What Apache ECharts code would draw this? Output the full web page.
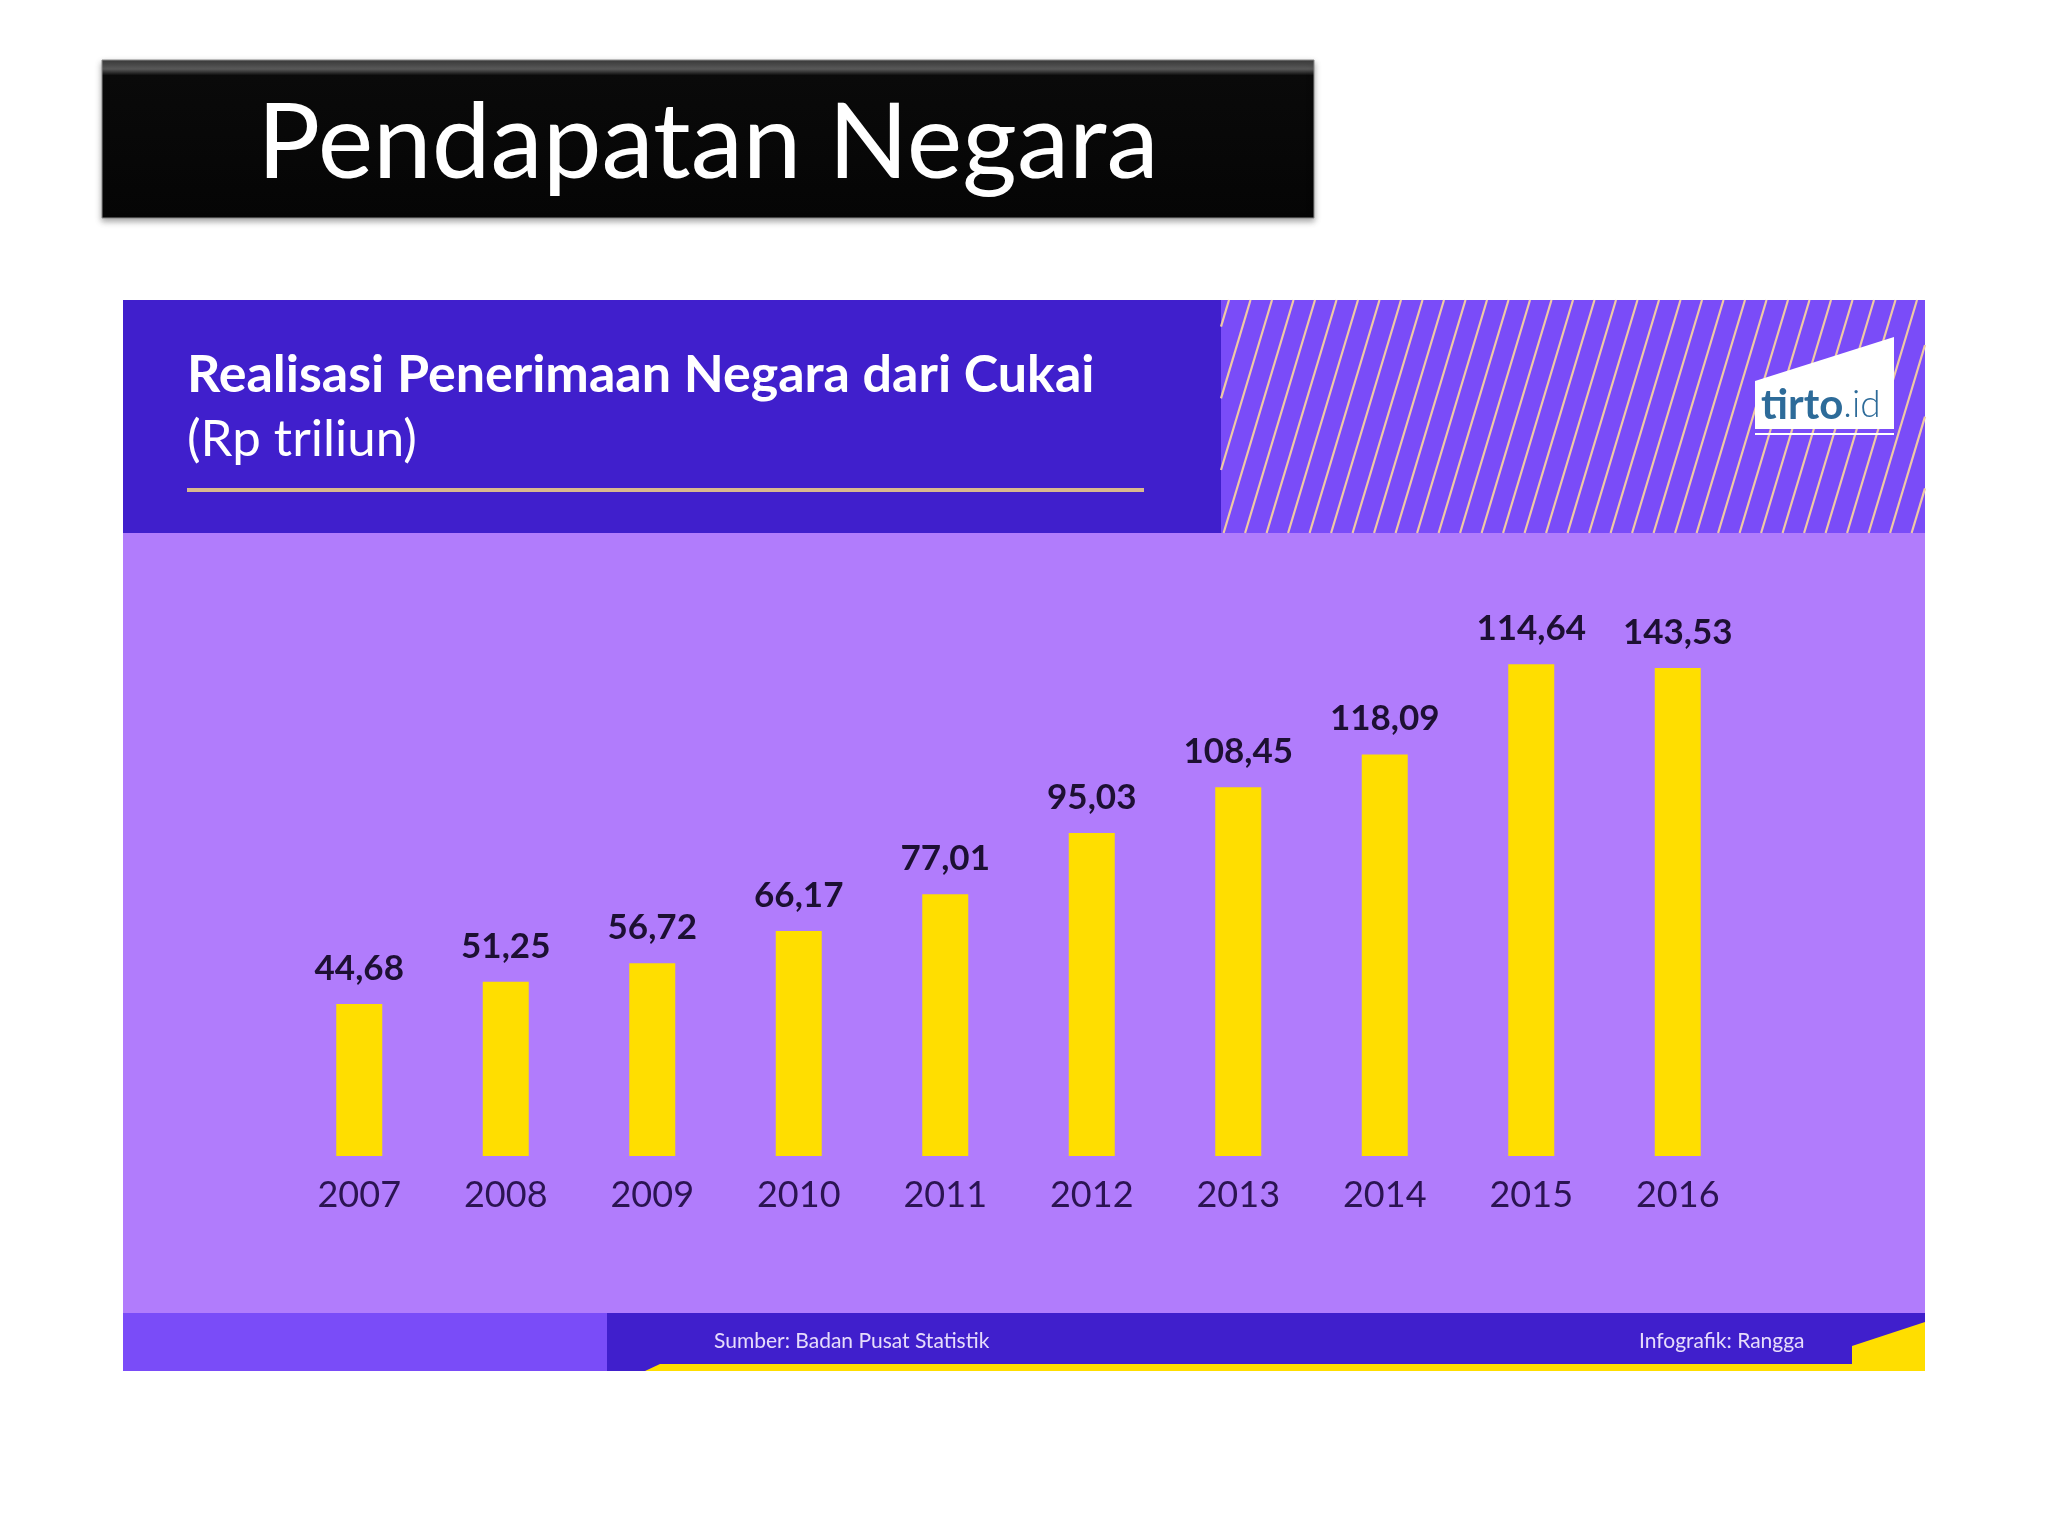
<!DOCTYPE html>
<html>
<head>
<meta charset="utf-8">
<title>Pendapatan Negara</title>
<script src="https://cdn.jsdelivr.net/npm/echarts@6/dist/echarts.min.js"></script>
<style>
  html, body { margin: 0; padding: 0; background: #ffffff; }
  #chart { width: 2048px; height: 1536px; }
</style>
</head>
<body>
<div id="chart"></div>
<script>
// data (Rp triliun)
const years = ['2007', '2008', '2009', '2010', '2011', '2012', '2013', '2014', '2015', '2016']
// bar heights as drawn (2015 bar is drawn at ~144.6 although its label reads 114,64)
const values = [44.68, 51.25, 56.72, 66.17, 77.01, 95.03, 108.45, 118.09, 144.64, 143.53]
// label texts exactly as printed on the picture
const valueLabels = ['44,68', '51,25', '56,72', '66,17', '77,01', '95,03', '108,45', '118,09', '114,64', '143,53']

const font = 'Lato'

// diagonal stripes in the header (decoration only)
function stripeLines () {
  const x0 = 1221, x1 = 1925, y0 = 300, y1 = 533
  const slope = 0.3 // dx per dy
  const step = 21.5
  const lines = []
  for (let xt = x0 + 8; xt < x1 + (y1 - y0) * slope; xt += step) {
    let ax = xt, ay = y0
    let bx = xt - (y1 - y0) * slope, by = y1
    if (ax > x1) { ay = y0 + (ax - x1) / slope; ax = x1 }
    if (bx < x0) { by = y1 - (x0 - bx) / slope; bx = x0 }
    if (ay >= by) continue
    lines.push({
      type: 'line',
      z: 1,
      shape: { x1: ax, y1: ay, x2: bx, y2: by },
      style: { stroke: '#efc9a4', lineWidth: 2.2 },
      silent: true
    })
  }
  return lines
}

const chart = echarts.init(document.getElementById('chart'))

const option = {
  backgroundColor: '#ffffff',
  animation: false,
  grid: {
    left: 286,
    right: 297,
    top: 612,
    bottom: 380
  },
  xAxis: {
    type: 'category',
    data: years,
    axisLine: { show: false },
    axisTick: { show: false },
    axisLabel: {
      margin: 21,
      fontFamily: font,
      fontSize: 36,
      color: '#2b1452'
    }
  },
  yAxis: {
    type: 'value',
    min: 0,
    max: 160,
    show: false,
    splitLine: { show: false }
  },
  series: [
    {
      type: 'bar',
      z: 5,
      data: values,
      barWidth: 46,
      itemStyle: { color: '#ffde00' },
      label: {
        show: true,
        position: 'top',
        distance: 18,
        fontFamily: font,
        fontWeight: 'bold',
        fontSize: 35,
        color: '#1d1033',
        formatter: p => valueLabels[p.dataIndex]
      }
    }
  ],
  graphic: [
    // slide title box
    {
      type: 'rect',
      z: 0,
      shape: { x: 102, y: 60, width: 1212, height: 158 },
      style: {
        fill: {
          type: 'linear', x: 0, y: 0, x2: 0, y2: 1,
          colorStops: [
            { offset: 0, color: '#3a3a3a' },
            { offset: 0.06, color: '#5a5a5a' },
            { offset: 0.1, color: '#0a0a0a' },
            { offset: 1, color: '#050505' }
          ]
        },
        stroke: '#8a8a8a',
        lineWidth: 1,
        shadowBlur: 6,
        shadowOffsetY: 3,
        shadowColor: 'rgba(0,0,0,0.35)'
      }
    },
    {
      type: 'text',
      z: 2,
      x: 708,
      y: 144,
      style: {
        text: 'Pendapatan Negara',
        fill: '#ffffff',
        fontFamily: font,
        fontSize: 105,
        align: 'center',
        verticalAlign: 'middle'
      }
    },
    // infographic panel
    {
      type: 'rect',
      z: 0,
      shape: { x: 123, y: 533, width: 1802, height: 780 },
      style: { fill: '#b17cfc' }
    },
    {
      type: 'rect',
      z: 0,
      shape: { x: 123, y: 300, width: 1098, height: 233 },
      style: { fill: '#401fcc' }
    },
    {
      type: 'rect',
      z: 0,
      shape: { x: 1221, y: 300, width: 704, height: 233 },
      style: { fill: '#7a4cf8' }
    },
    ...stripeLines(),
    {
      type: 'text',
      z: 2,
      x: 187,
      y: 375,
      style: {
        text: 'Realisasi Penerimaan Negara dari Cukai',
        fill: '#ffffff',
        fontFamily: font,
        fontWeight: 'bold',
        fontSize: 52,
        verticalAlign: 'middle'
      }
    },
    {
      type: 'text',
      z: 2,
      x: 187,
      y: 440,
      style: {
        text: '(Rp triliun)',
        fill: '#ffffff',
        fontFamily: font,
        fontSize: 51,
        verticalAlign: 'middle'
      }
    },
    {
      type: 'rect',
      z: 2,
      shape: { x: 187, y: 488, width: 957, height: 4 },
      style: { fill: '#d9b98e' }
    },
    // logo
    {
      type: 'polygon',
      z: 3,
      shape: { points: [[1755, 381], [1894, 337], [1894, 429], [1755, 429]] },
      style: { fill: '#ffffff' }
    },
    {
      type: 'rect',
      z: 3,
      shape: { x: 1755, y: 433, width: 139, height: 2 },
      style: { fill: '#ffffff' }
    },
    {
      type: 'text',
      z: 4,
      x: 1761,
      y: 405,
      style: {
        text: '{a|tirto}{b|.id}',
        verticalAlign: 'middle',
        rich: {
          a: { fontFamily: font, fontWeight: 'bold', fontSize: 42, fill: '#2d6b99' },
          b: { fontFamily: font, fontWeight: 300, fontSize: 37, fill: '#2d6b99' }
        }
      }
    },
    // footer
    {
      type: 'rect',
      z: 0,
      shape: { x: 123, y: 1313, width: 484, height: 58 },
      style: { fill: '#7a4cf8' }
    },
    {
      type: 'rect',
      z: 0,
      shape: { x: 607, y: 1313, width: 1318, height: 58 },
      style: { fill: '#401fcc' }
    },
    {
      type: 'polygon',
      z: 1,
      shape: { points: [[660, 1364], [1925, 1364], [1925, 1371], [645, 1371]] },
      style: { fill: '#ffde00' }
    },
    {
      type: 'polygon',
      z: 1,
      shape: { points: [[1852, 1346], [1925, 1322], [1925, 1371], [1852, 1371]] },
      style: { fill: '#ffde00' }
    },
    {
      type: 'text',
      z: 2,
      x: 714,
      y: 1341,
      style: {
        text: 'Sumber: Badan Pusat Statistik',
        fill: '#e6dcfb',
        fontFamily: font,
        fontSize: 21,
        verticalAlign: 'middle'
      }
    },
    {
      type: 'text',
      z: 2,
      x: 1639,
      y: 1341,
      style: {
        text: 'Infografik: Rangga',
        fill: '#e6dcfb',
        fontFamily: font,
        fontSize: 21,
        verticalAlign: 'middle'
      }
    }
  ]
}

chart.setOption(option)
</script>
</body>
</html>
